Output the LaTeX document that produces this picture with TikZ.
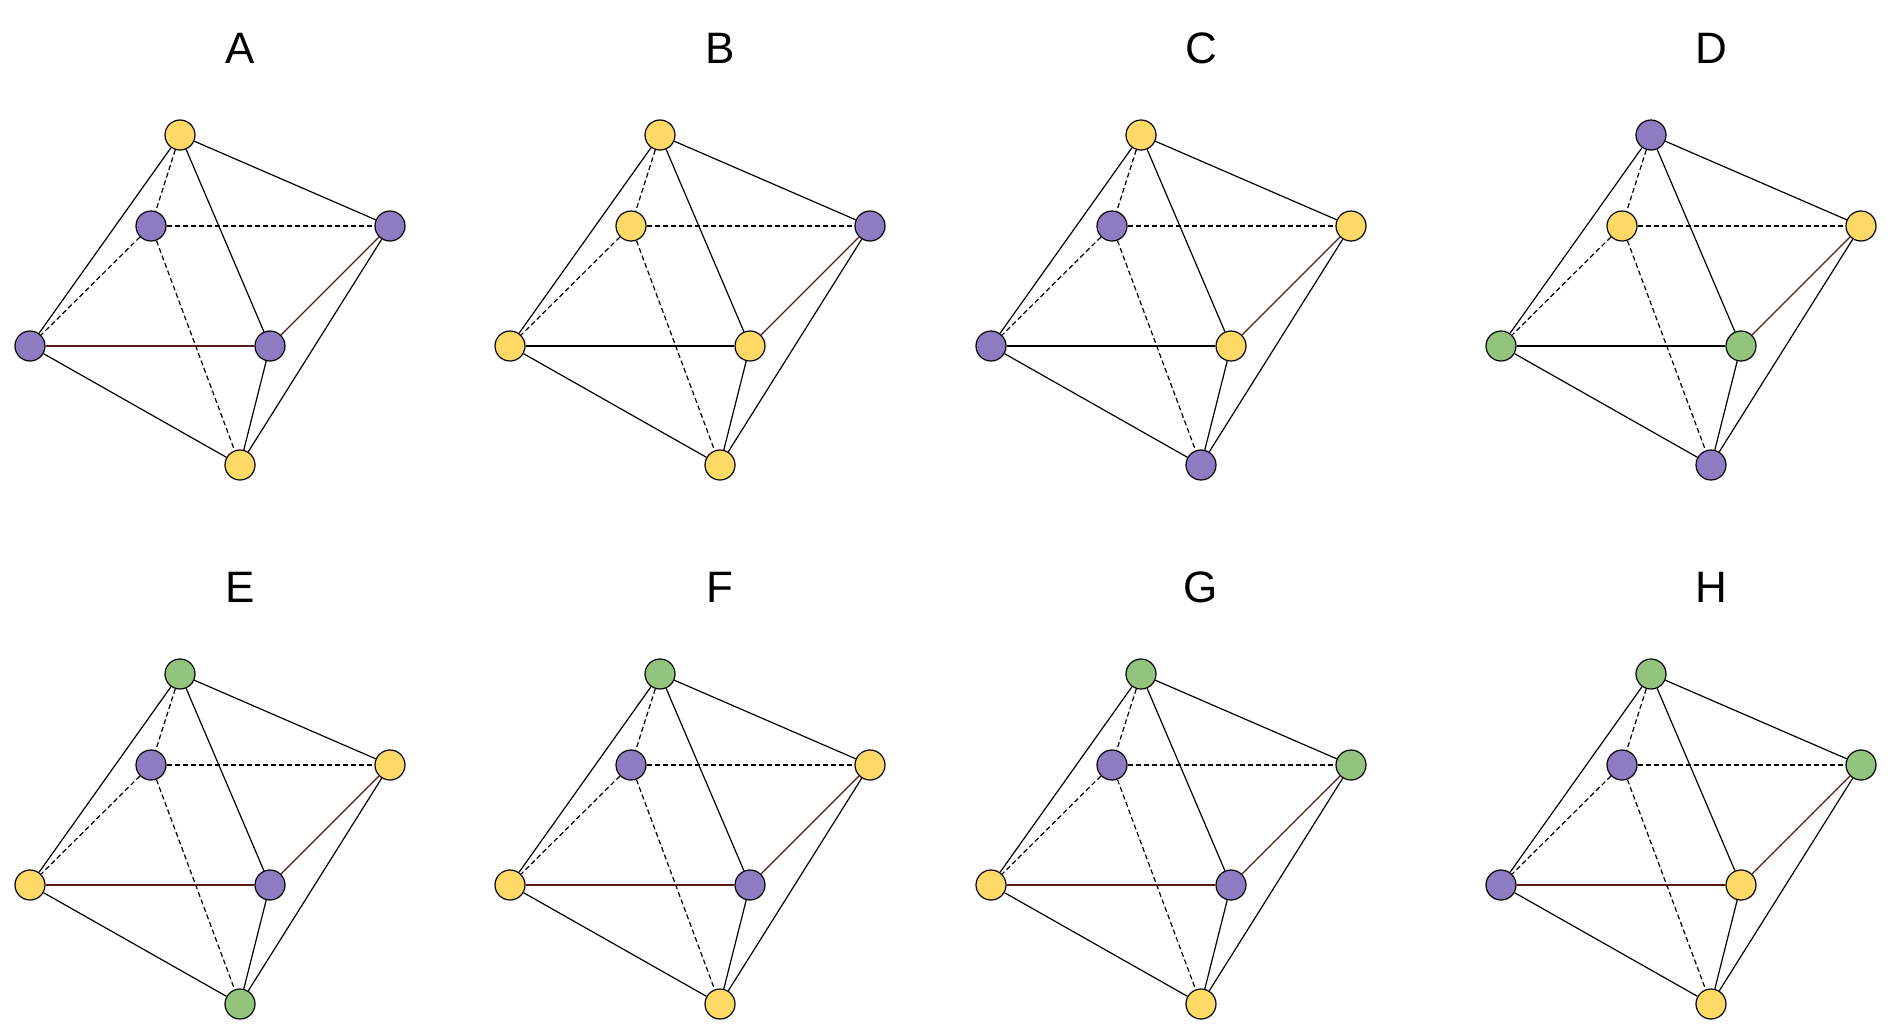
\documentclass[tikz,border=0pt]{standalone}
\usepackage{fontspec}
\setmainfont{Liberation Sans}
\definecolor{cy}{HTML}{FFD966}
\definecolor{cp}{HTML}{8E7CC3}
\definecolor{cg}{HTML}{93C47D}
\definecolor{er}{HTML}{5A1A1A}
\tikzset{vtx/.style={circle,draw=black,line width=1.2pt,minimum size=30pt,inner sep=0pt},
 ed/.style={line width=1.2pt,black},
 hid/.style={ed,dashed,dash pattern=on 5pt off 3pt},
 red/.style={line width=1.2pt,er},
 ttl/.style={font=\fontsize{44}{48}\selectfont}}
\newcommand{\octa}[9]{%
 \begin{scope}[shift={(#1,#2)}]
 \node[ttl] (#3t) at (240,48) {#3};
 \node[vtx,fill=#4] (#3T) at (180,135) {};
 \node[vtx,fill=#5] (#3K) at (151,226) {};
 \node[vtx,fill=#6] (#3R) at (390,226) {};
 \node[vtx,fill=#7] (#3L) at (30,346) {};
 \node[vtx,fill=#8] (#3F) at (270,346) {};
 \node[vtx,fill=#9] (#3B) at (240,465) {};
 \end{scope}}
\newcommand{\octedges}[2]{%
 \begin{scope}[on background layer]\end{scope}
 \draw[hid] (#1T)--(#1K); \draw[hid] (#1K)--(#1R); \draw[hid] (#1K)--(#1L); \draw[hid] (#1K)--(#1B);
 \draw[ed] (#1T)--(#1L); \draw[ed] (#1T)--(#1F); \draw[ed] (#1T)--(#1R);
 \draw[ed] (#1L)--(#1B); \draw[ed] (#1F)--(#1B); \draw[ed] (#1R)--(#1B);
 \draw[red] (#1F)--(#1R); \draw[#2] (#1L)--(#1F);}
\usetikzlibrary{backgrounds}
\begin{document}
\begin{tikzpicture}[x=1pt,y=-1pt]
\useasboundingbox (0,0) rectangle (1890,1034);
\octa{0}{0}{A}{cy}{cp}{cp}{cp}{cp}{cy}
\octa{480}{0}{B}{cy}{cy}{cp}{cy}{cy}{cy}
\octa{961}{0}{C}{cy}{cp}{cy}{cp}{cy}{cp}
\octa{1471}{0}{D}{cp}{cy}{cy}{cg}{cg}{cp}
\octa{0}{539}{E}{cg}{cp}{cy}{cy}{cp}{cg}
\octa{480}{539}{F}{cg}{cp}{cy}{cy}{cp}{cy}
\octa{961}{539}{G}{cg}{cp}{cg}{cy}{cp}{cy}
\octa{1471}{539}{H}{cg}{cp}{cg}{cp}{cy}{cy}
\begin{scope}[on background layer]
\octedges{A}{red}
\octedges{B}{ed}
\octedges{C}{ed}
\octedges{D}{ed}
\octedges{E}{red}
\octedges{F}{red}
\octedges{G}{red}
\octedges{H}{red}
\end{scope}
\end{tikzpicture}
\end{document}
